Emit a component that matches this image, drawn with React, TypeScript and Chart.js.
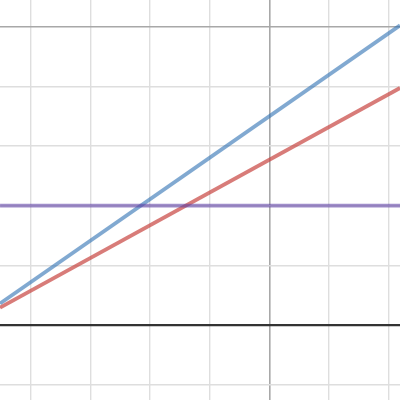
import React, { useEffect, useRef } from "react";
import { Chart, registerables } from "chart.js";

Chart.register(...registerables);

const xEnds = [-4.51, 2.19];
const blueValues = [0.36, 5.02];
const redValues = [0.29, 3.97];
const purpleValues = [2, 2];
const xRange = [-4.511, 2.189];
const yRange = [-1.256, 5.444];
const xGridValues = [-4, -3, -2, -1, 0, 1, 2];
const yGridValues = [-1, 0, 1, 2, 3, 4, 5];

const toPoints = (ys: number[]) => xEnds.map((x, i) => ({ x, y: ys[i] }));

const gridColor = (v: number, axisVal: number | null, majorEvery: number) => {
  const r = Math.round(v * 1000) / 1000;
  if (!Number.isInteger(r)) return "rgba(0,0,0,0)";
  if (axisVal !== null && r === axisVal) return "#333333";
  if (r % majorEvery === 0) return "#a8a8a8";
  return "#dedede";
};
const gridWidth = (v: number, axisVal: number | null, majorEvery: number) => {
  const r = Math.round(v * 1000) / 1000;
  if (axisVal !== null && r === axisVal) return 2.2;
  if (Number.isInteger(r) && r % majorEvery === 0) return 1.6;
  return 1.4;
};

export default function App() {
  const ref = useRef<HTMLCanvasElement | null>(null);
  useEffect(() => {
    if (!ref.current) return;
    const chart = new Chart(ref.current, {
      type: "scatter",
      data: {
        datasets: [
          {
            data: toPoints(purpleValues),
            showLine: true,
            borderColor: "rgba(96,66,166,0.6)",
            borderWidth: 3.8,
            pointRadius: 0,
          },
          {
            data: toPoints(redValues),
            showLine: true,
            borderColor: "rgba(199,68,64,0.7)",
            borderWidth: 3.8,
            pointRadius: 0,
          },
          {
            data: toPoints(blueValues),
            showLine: true,
            borderColor: "rgba(45,112,179,0.6)",
            borderWidth: 3.8,
            pointRadius: 0,
          },
        ],
      },
      options: {
        animation: false,
        responsive: false,
        maintainAspectRatio: false,
        layout: { padding: 0 },
        plugins: { legend: { display: false }, tooltip: { enabled: false } },
        scales: {
          x: {
            type: "linear",
            min: xRange[0],
            max: xRange[1],
            afterBuildTicks: (scale: any) => {
              scale.ticks = xGridValues.map((value) => ({ value }));
            },
            ticks: { display: false },
            border: { display: false },
            grid: {
              drawTicks: false,
              color: (ctx: any) => gridColor(ctx.tick.value, null, 5),
              lineWidth: (ctx: any) => gridWidth(ctx.tick.value, null, 5),
            },
          },
          y: {
            type: "linear",
            min: yRange[0],
            max: yRange[1],
            afterBuildTicks: (scale: any) => {
              scale.ticks = yGridValues.map((value) => ({ value }));
            },
            ticks: { display: false },
            border: { display: false },
            grid: {
              drawTicks: false,
              color: (ctx: any) => gridColor(ctx.tick.value, 0, 5),
              lineWidth: (ctx: any) => gridWidth(ctx.tick.value, 0, 5),
            },
          },
        },
      },
    });
    return () => chart.destroy();
  }, []);
  return (
    <div style={{ position: "fixed", left: 0, top: 0, width: 400, height: 400, background: "#fff" }}>
      <canvas ref={ref} width={400} height={400} style={{ width: 400, height: 400 }} />
    </div>
  );
}
